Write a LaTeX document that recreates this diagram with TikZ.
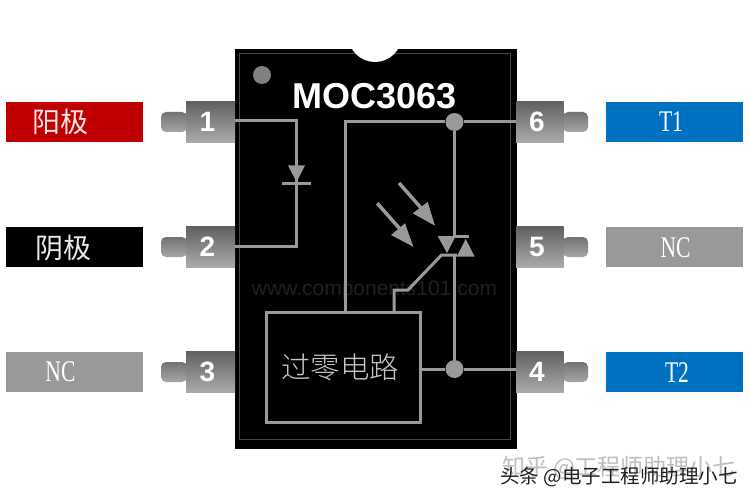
\documentclass[tikz,border=0pt]{standalone}
\usepackage{fontspec}
\usepackage{graphicx}
\setmainfont{Liberation Serif}
\newfontfamily\cjk{Noto Sans CJK SC}
\newfontfamily\cjklight[UprightFont=* Light]{Noto Sans CJK SC}
\newfontfamily\headsf{Liberation Sans}
\definecolor{wiregray}{HTML}{999999}
\definecolor{labred}{HTML}{C00000}
\definecolor{labblue}{HTML}{0070C0}
\definecolor{labgray}{HTML}{999999}
\tikzset{
  x=1pt,y=-1pt,
  wire/.style={draw=wiregray,line width=3pt},
  glyph/.style={fill=wiregray,draw=none},
  joint/.style={circle,fill=wiregray,draw=none,minimum size=18pt,inner sep=0pt},
  pinbody/.style={rectangle,draw=none,minimum width=#1,minimum height=40.5pt,inner sep=0pt,top color=black!62,bottom color=black!33},
  pinstub/.style={top color=black!55,bottom color=black!35,draw=none},
  pinnum/.style={text=white,inner sep=0pt,font=\headsf\bfseries\fontsize{28}{28}\selectfont},
  labelbox/.style={rectangle,draw=none,fill=#1,minimum height=40.5pt,minimum width=137pt,inner sep=0pt},
  cjklabel/.style={inner sep=0pt,font=\cjk\fontsize{28}{28}\selectfont},
  serlabel/.style={inner sep=0pt,text=white,font=\fontsize{30}{30}\selectfont},
}
\begin{document}
\begin{tikzpicture}
\useasboundingbox (0,0) rectangle (750,500);
\fill[white] (0,0) rectangle (750,500);
% chip
\node[rectangle,fill=black,draw=none,minimum width=281.5pt,minimum height=400pt,inner sep=0pt] (chip) at (375.75,249) {};
\draw[black!72,line width=1pt] (239.5,54) rectangle (510,439);
\fill[white] (375,35.2) circle (26.8);
\node[circle,fill=black!50,minimum size=18pt,inner sep=0pt] (dot) at (262,75) {};
\node[text=white,inner sep=0pt,font=\headsf\bfseries\fontsize{36}{36}\selectfont] (title) at (374.5,96) {MOC3063};
\node[text=black!88,inner sep=0pt,font=\headsf\fontsize{21}{21}\selectfont] (site) at (374.5,290) {www.components101.com};
% left pins
\foreach \n/\yy in {1/122,2/247,3/372}{
  \path[pinstub,rounded corners=5pt] (187,\yy-10) -- (161,\yy-10) -- (161,\yy+10) -- (187,\yy+10) -- cycle;
  \node[pinbody=49pt] (pin\n) at (210.5,\yy) {};
  \node[pinnum] (num\n) at (207.5,\yy) {\n};
}
% right pins
\foreach \n/\yy in {6/122,5/247,4/372}{
  \path[pinstub,rounded corners=5pt] (563,\yy-10) -- (588,\yy-10) -- (588,\yy+10) -- (563,\yy+10) -- cycle;
  \node[pinbody=47.5pt] (pin\n) at (539.75,\yy) {};
  \node[pinnum] (num\n) at (537,\yy) {\n};
}
% label boxes
\node[labelbox=labred] (lab1) at (74.2,122) {};
\node[labelbox=black] (lab2) at (74.2,247) {};
\node[labelbox=labgray] (lab3) at (74.2,372) {};
\node[labelbox=labblue] (lab6) at (674.8,122) {};
\node[labelbox=labgray] (lab5) at (674.8,247) {};
\node[labelbox=labblue] (lab4) at (674.8,372) {};
\node[cjklabel,text=white!90!red] (t1) at (60.5,122) {阳极};
\node[cjklabel,text=white!92!black] (t2) at (63.5,248) {阴极};
\node[serlabel] (t3) at (60.5,372) {\scalebox{0.72}[1]{NC}};
\node[serlabel] (t6) at (671,122) {\scalebox{0.72}[1]{T1}};
\node[serlabel] (t5) at (675.5,248) {\scalebox{0.72}[1]{NC}};
\node[serlabel] (t4) at (677,373) {\scalebox{0.72}[1]{T2}};
% zero-cross box
\node[rectangle,draw=wiregray,line width=3pt,minimum width=154pt,minimum height=110pt,inner sep=0pt] (zc) at (343,367) {};
\node[inner sep=0pt,text=black!22,font=\cjklight\fontsize{29.5}{29.5}\selectfont] (zctext) at (340,367) {过零电路};
% named points
\coordinate (a1) at (235,120.5);
\coordinate (a2) at (296.5,120.5);
\coordinate (a3) at (296.5,246.5);
\coordinate (a4) at (235,246.5);
\node[joint] (j1) at (454.5,122) {};
\node[joint] (j2) at (454.5,369) {};
\coordinate (b1) at (345,122);
\coordinate (b2) at (345,312);
\coordinate (b3) at (516,122);
\coordinate (c1) at (420,369);
\coordinate (c2) at (516,369);
\coordinate (t1top) at (454.5,237);
\coordinate (t1bot) at (454.5,255);
\coordinate (g1) at (394,312);
\coordinate (g2) at (394,290);
\coordinate (g3) at (408,290);
\coordinate (g4) at (441.5,255);
\coordinate (g5) at (457,255);
% wires
\draw[wire] (a1) -- (a2) -- (a3) -- (a4);
\draw[wire] (b2) -- (b1) -- (j1) -- (b3);
\draw[wire] (j1) -- (t1top);
\draw[wire] (t1bot) -- (j2);
\draw[wire] (c1) -- (j2) -- (c2);
\draw[wire] (g1) -- (g2) -- (g3) -- (g4) -- (g5);
\draw[wire] (453,236.7) -- (469,236.7);
% diode
\fill[glyph] (288,165.5) -- (305,165.5) -- (296.7,182) -- cycle;
\fill[glyph] (282,181.8) rectangle (311,185.2);
% triac
\fill[glyph] (437.7,236) -- (455.7,236) -- (447,253) -- cycle;
\fill[glyph] (456.7,256.7) -- (474.7,256.7) -- (465.7,239) -- cycle;
% light arrows
\draw[wire,line width=3.5pt] (399,183) -- (422,209);
\fill[glyph] (435,225.7) -- (412.7,213.3) -- (427.7,202) -- cycle;
\draw[wire,line width=3.5pt] (377.3,203.3) -- (400,229);
\fill[glyph] (413.3,246.7) -- (391,235) -- (405,223.3) -- cycle;
% watermarks
\node[inner sep=0pt,text=black!25,font=\cjk\fontsize{23}{23}\selectfont] (wm1) at (619,468) {知乎 @工程师助理小七};
\node[inner sep=0pt,text=black!88,font=\cjk\fontsize{19.5}{19.5}\selectfont] (wm2) at (619,477) {头条 @电子工程师助理小七};
\end{tikzpicture}
\end{document}
